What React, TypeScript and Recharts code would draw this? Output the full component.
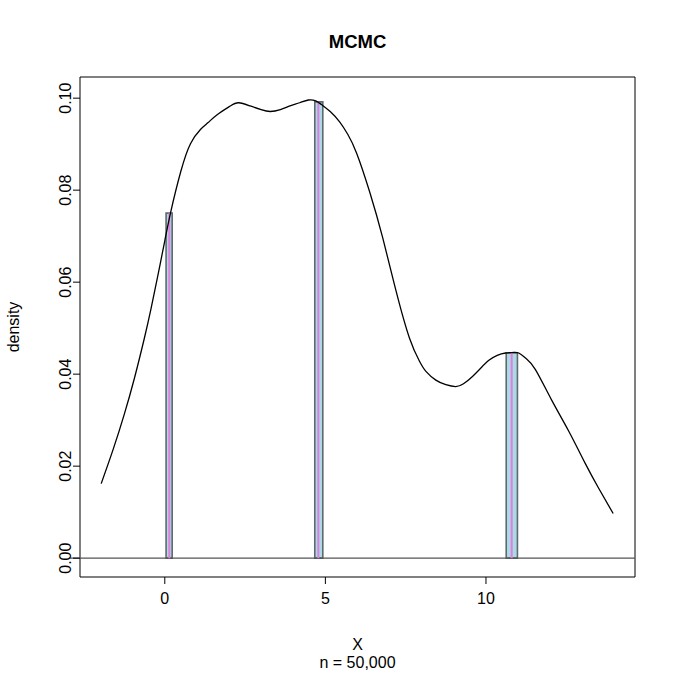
import { ComposedChart, Line, XAxis, YAxis, ReferenceArea, ReferenceLine } from 'recharts';

// density curve
const CURVE_X = [
  -1.98, -1.6, -1.26, -0.95, -0.64, -0.43, -0.226, 0, 0.186, 0.5, 0.8, 1.11, 1.35, 1.63, 2.04, 2.3,
  2.66, 3.0, 3.28, 3.6, 3.9, 4.2, 4.47, 4.7, 4.88, 5.15, 5.45, 5.7, 5.97, 6.38, 6.79, 7.2, 7.62,
  7.93, 8.13, 8.44, 8.75, 9.06, 9.3, 9.58, 9.85, 10.09, 10.35, 10.61, 10.82, 11.02, 11.25, 11.54,
  12.05, 12.57, 13.09, 13.5, 13.96,
];
const CURVE_Y = [
  0.0162, 0.0238, 0.0313, 0.039, 0.0477, 0.0542, 0.0611, 0.069, 0.0753, 0.0841, 0.0901, 0.0932,
  0.0947, 0.0964, 0.0983, 0.099, 0.0983, 0.0975, 0.0971, 0.0975, 0.0983, 0.099, 0.0996, 0.0994,
  0.0986, 0.0971, 0.0948, 0.0921, 0.0881, 0.0796, 0.0695, 0.0581, 0.0478, 0.0428, 0.0406, 0.0387,
  0.0377, 0.0373, 0.0379, 0.0395, 0.0414, 0.043, 0.0441, 0.0446, 0.0447, 0.0446, 0.0434, 0.041,
  0.0343, 0.0277, 0.0206, 0.0153, 0.0097,
];

// the three sample bars
const BAR_LEFT = [0.04, 4.67, 10.63];
const BAR_RIGHT = [0.23, 4.92, 10.98];
const BAR_MID = [0.14, 4.78, 10.8];
const BAR_HEIGHT = [0.075, 0.0992, 0.0446];

const X_TICKS = [0, 5, 10];
const Y_TICKS = [0, 0.02, 0.04, 0.06, 0.08, 0.1];
const X_DOMAIN = [-2.64, 14.64];
const Y_DOMAIN = [-0.0041, 0.1046];

const data = CURVE_X.map((x, i) => ({ x, density: CURVE_Y[i] }));

const FONT = '"Liberation Sans", Arial, Helvetica, sans-serif';

function YTick(props: any) {
  const { x, y, payload } = props;
  return (
    <text
      x={x}
      y={y}
      transform={`rotate(-90, ${x}, ${y})`}
      textAnchor="middle"
      fontSize={16}
      fill="#000"
      fontFamily={FONT}
    >
      {Number(payload.value).toFixed(2)}
    </text>
  );
}

export default function App() {
  return (
    <div style={{ position: 'absolute', left: 0, top: 0, width: 676, height: 676, background: '#fff', fontFamily: FONT }}>
      <ComposedChart width={676} height={676} data={data} margin={{ top: 77, right: 41, bottom: 69, left: 0 }}>
        <XAxis
          type="number"
          dataKey="x"
          domain={X_DOMAIN}
          ticks={X_TICKS}
          allowDataOverflow
          axisLine={false}
          tickLine={{ stroke: '#000' }}
          tickSize={7}
          tickMargin={9}
          height={30}
          tick={{ fontSize: 16, fill: '#000', fontFamily: FONT }}
        />
        <YAxis
          type="number"
          domain={Y_DOMAIN}
          ticks={Y_TICKS}
          allowDataOverflow
          axisLine={false}
          tickLine={{ stroke: '#000' }}
          tickSize={7}
          tickMargin={2}
          width={80}
          tick={<YTick />}
        />
        <ReferenceArea
          x1={X_DOMAIN[0]}
          x2={X_DOMAIN[1]}
          y1={Y_DOMAIN[0]}
          y2={Y_DOMAIN[1]}
          fill="none"
          stroke="#000"
          strokeWidth={1}
          ifOverflow="visible"
        />
        <ReferenceLine
          segment={[{ x: -2.97, y: 0 }, { x: X_DOMAIN[1], y: 0 }]}
          stroke="#555"
          strokeWidth={1.3}
          ifOverflow="visible"
        />
        {BAR_LEFT.map((l, i) => (
          <ReferenceArea
            key={`bar-${i}`}
            x1={l}
            x2={BAR_RIGHT[i]}
            y1={0}
            y2={BAR_HEIGHT[i]}
            fill="#add8e6"
            fillOpacity={1}
            stroke="#5f6a6a"
            strokeWidth={1.6}
          />
        ))}
        {BAR_MID.map((m, i) => (
          <ReferenceLine
            key={`mid-${i}`}
            segment={[{ x: m, y: 0 }, { x: m, y: BAR_HEIGHT[i] }]}
            stroke="#e07ee0"
            strokeWidth={2}
          />
        ))}
        <Line
          type="natural"
          dataKey="density"
          stroke="#000"
          strokeWidth={1.3}
          dot={false}
          isAnimationActive={false}
        />
      </ComposedChart>
      <div style={{ position: 'absolute', left: 80, width: 555, top: 30, lineHeight: '24px', textAlign: 'center', fontWeight: 'bold', fontSize: 18.5 }}>
        MCMC
      </div>
      <div style={{ position: 'absolute', left: 80, width: 555, top: 635, lineHeight: '20px', textAlign: 'center', fontSize: 16 }}>
        X
      </div>
      <div style={{ position: 'absolute', left: 80, width: 555, top: 653, lineHeight: '20px', textAlign: 'center', fontSize: 16 }}>
        n = 50,000
      </div>
      <div
        style={{
          position: 'absolute',
          left: 14,
          top: 327,
          fontSize: 16,
          lineHeight: '20px',
          whiteSpace: 'nowrap',
          transform: 'translate(-50%, -50%) rotate(-90deg)',
        }}
      >
        density
      </div>
    </div>
  );
}
